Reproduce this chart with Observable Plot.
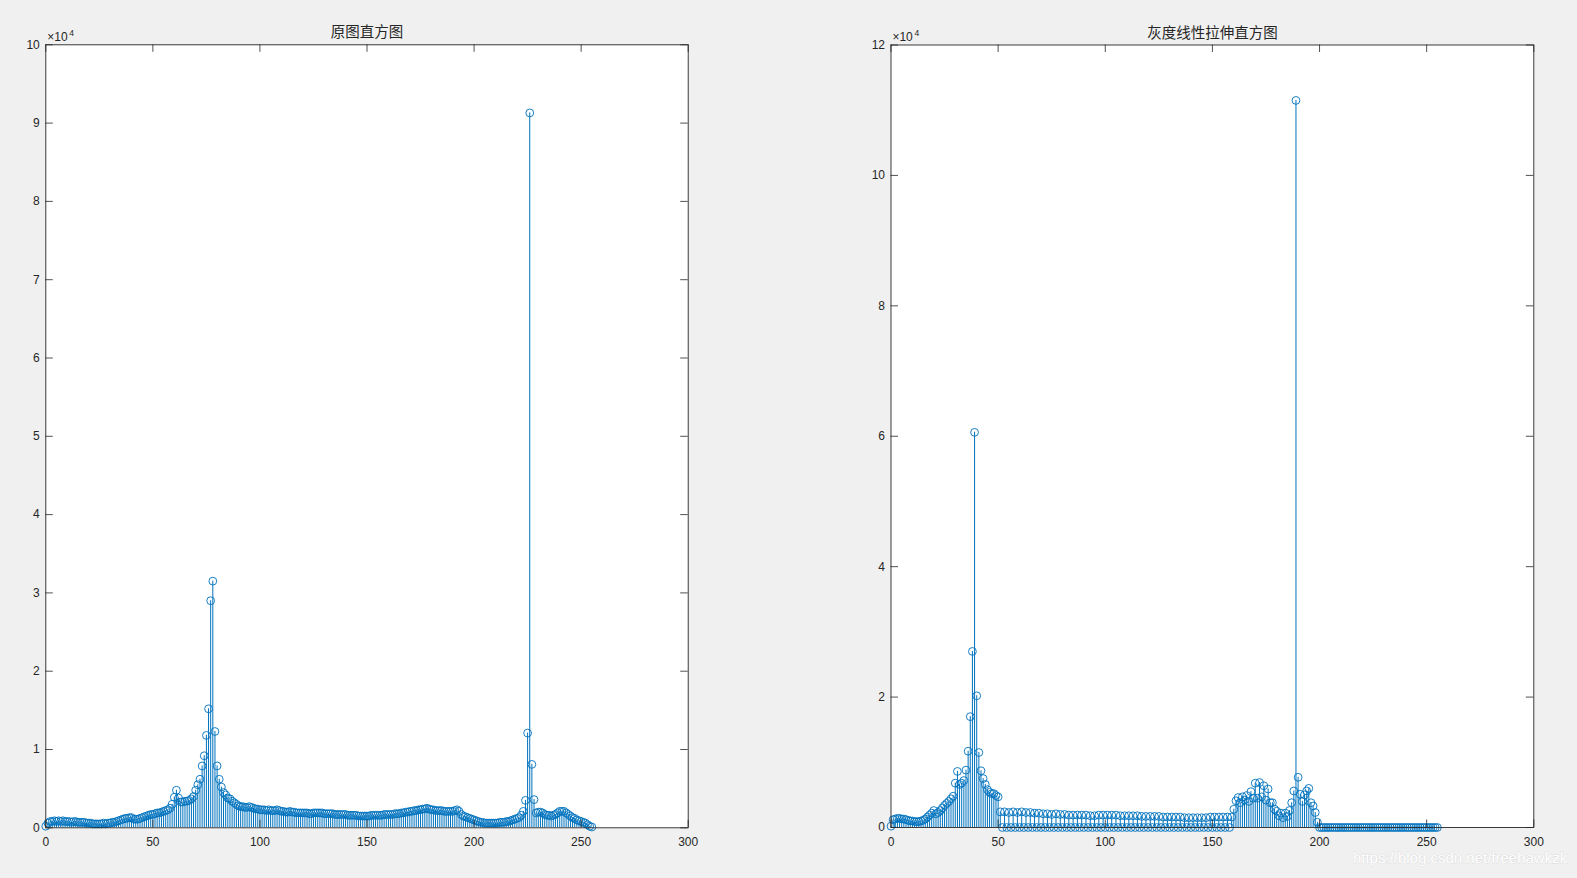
<!DOCTYPE html>
<html><head><meta charset="utf-8">
<script src="https://cdn.jsdelivr.net/npm/d3@7"></script>
<script src="https://cdn.jsdelivr.net/npm/@observablehq/plot@0.6"></script>
<style>
html,body{margin:0;padding:0;background:#f0f0f0;}
#fig{position:relative;width:1577px;height:878px;background:#f0f0f0;overflow:hidden;}
#fig svg{position:absolute;top:0;}
</style></head><body><div id="fig"></div>
<script>
// histogram counts, in units of 10^4 pixels, gray level 0..255
const origCounts = [
0.02,0.06,0.08,0.08,0.09,0.08,0.09,0.08,0.09,0.08,
0.08,0.08,0.07,0.08,0.08,0.07,0.07,0.07,0.07,0.06,
0.06,0.06,0.05,0.05,0.05,0.05,0.05,0.06,0.05,0.06,
0.06,0.07,0.07,0.08,0.09,0.10,0.11,0.12,0.12,0.13,
0.13,0.11,0.11,0.11,0.12,0.13,0.14,0.15,0.16,0.17,
0.17,0.18,0.19,0.19,0.20,0.21,0.22,0.23,0.25,0.30,
0.39,0.48,0.38,0.33,0.33,0.34,0.34,0.35,0.37,0.40,
0.48,0.55,0.62,0.79,0.92,1.18,1.52,2.90,3.15,1.23,
0.79,0.62,0.52,0.45,0.42,0.38,0.37,0.34,0.32,0.30,
0.28,0.27,0.27,0.26,0.26,0.27,0.26,0.25,0.24,0.24,
0.23,0.23,0.23,0.22,0.23,0.22,0.22,0.22,0.23,0.22,
0.21,0.21,0.20,0.20,0.21,0.20,0.20,0.19,0.19,0.19,
0.19,0.19,0.19,0.18,0.18,0.19,0.19,0.19,0.19,0.19,
0.18,0.18,0.18,0.18,0.18,0.17,0.17,0.17,0.17,0.17,
0.17,0.16,0.16,0.16,0.16,0.16,0.15,0.15,0.15,0.15,
0.15,0.15,0.16,0.16,0.16,0.16,0.16,0.16,0.17,0.17,
0.17,0.17,0.17,0.18,0.18,0.18,0.19,0.19,0.20,0.20,
0.21,0.21,0.22,0.22,0.23,0.23,0.24,0.24,0.25,0.24,
0.23,0.23,0.22,0.22,0.22,0.22,0.21,0.21,0.21,0.21,
0.21,0.22,0.23,0.21,0.17,0.15,0.14,0.13,0.12,0.11,
0.10,0.09,0.08,0.07,0.07,0.06,0.06,0.06,0.06,0.06,
0.06,0.06,0.07,0.07,0.07,0.08,0.08,0.09,0.10,0.11,
0.12,0.13,0.16,0.21,0.35,1.21,9.13,0.81,0.36,0.19,
0.20,0.20,0.19,0.17,0.16,0.16,0.15,0.16,0.17,0.19,
0.21,0.21,0.21,0.19,0.17,0.15,0.13,0.12,0.10,0.09,
0.08,0.07,0.06,0.04,0.02,0.01
];
const stretchCounts = [
0.02,0.12,0.13,0.14,0.14,0.13,0.13,0.12,0.11,0.10,
0.10,0.09,0.09,0.09,0.10,0.11,0.13,0.16,0.19,0.22,
0.26,0.21,0.23,0.26,0.30,0.34,0.37,0.40,0.44,0.48,
0.68,0.86,0.66,0.68,0.72,0.88,1.17,1.70,2.70,6.06,
2.02,1.15,0.87,0.75,0.66,0.58,0.54,0.52,0.52,0.49,
0.47,0.24,0,0.24,0,0.23,0,0.24,0,0.23,
0,0.24,0,0.23,0,0.23,0,0.22,0,0.22,
0,0.21,0,0.21,0,0.20,0,0.21,0,0.20,
0,0.20,0,0.19,0,0.19,0,0.19,0,0.19,
0,0.19,0,0.18,0,0.18,0,0.19,0,0.19,
0,0.19,0,0.19,0,0.19,0,0.18,0,0.18,
0,0.18,0,0.18,0,0.18,0,0.17,0,0.17,
0,0.17,0,0.17,0,0.17,0,0.16,0,0.16,
0,0.16,0,0.16,0,0.16,0,0.15,0,0.15,
0,0.15,0,0.15,0,0.15,0,0.15,0,0.16,
0,0.16,0,0.16,0,0.16,0,0.16,0,0.16,
0.28,0.41,0.46,0.38,0.47,0.42,0.49,0.40,0.55,0.45,
0.68,0.45,0.69,0.47,0.64,0.42,0.59,0.38,0.38,0.28,
0.25,0.18,0.22,0.15,0.22,0.17,0.26,0.38,0.56,11.15,
0.77,0.51,0.40,0.50,0.56,0.60,0.38,0.33,0.23,0.08,
0,0,0,0,0,0,0,0,0,0,
0,0,0,0,0,0,0,0,0,0,
0,0,0,0,0,0,0,0,0,0,
0,0,0,0,0,0,0,0,0,0,
0,0,0,0,0,0,0,0,0,0,
0,0,0,0,0,0
];
const xTicks = [0, 50, 100, 150, 200, 250, 300];
const yTicksLeft = [0, 1, 2, 3, 4, 5, 6, 7, 8, 9, 10];
const yTicksRight = [0, 2, 4, 6, 8, 10, 12];
const titles = ["原图直方图", "灰度线性拉伸直方图"];
const exponentText = ["×10", "4"];
const watermark = "https://blog.csdn.net/freehawkzk";

const BLUE = "#0072BD", INK = "#262626", TICK = 7.5;

function panel({values, yMax, yTicks, title, left, width, mL, mR, mT, mB, extra = []}) {
  const H = 878;
  const innerW = width - mL - mR, innerH = H - mT - mB;
  const data = values.map((v, i) => ({gray: i, count: v}));
  const svg = Plot.plot({
    width, height: H,
    marginLeft: mL, marginRight: mR, marginTop: mT, marginBottom: mB,
    x: {domain: [0, 300]},
    y: {domain: [0, yMax]},
    style: {background: "transparent", fontFamily: "'Liberation Sans', Arial, sans-serif", fontSize: "12px", color: INK, overflow: "visible"},
    marks: [
      Plot.frame({fill: "white", stroke: "none"}),
      Plot.ruleX(data, {x: "gray", y: "count", stroke: BLUE, strokeWidth: 1}),
      Plot.dot(data, {x: "gray", y: "count", r: 3.9, stroke: BLUE, strokeWidth: 0.9, fill: "none"}),
      Plot.tickX(xTicks, {x: d => d, insetTop: innerH - TICK, stroke: INK, strokeWidth: 0.8}),
      Plot.tickX(xTicks, {x: d => d, insetBottom: innerH - TICK, stroke: INK, strokeWidth: 0.8}),
      Plot.tickY(yTicks, {y: d => d, insetRight: innerW - TICK, stroke: INK, strokeWidth: 0.8}),
      Plot.tickY(yTicks, {y: d => d, insetLeft: innerW - TICK, stroke: INK, strokeWidth: 0.8}),
      Plot.frame({stroke: INK, strokeWidth: 0.9}),
      Plot.axisX(xTicks, {tickSize: 0, tickPadding: 10, label: null, fill: INK, fontSize: 12, tickFormat: d => String(d)}),
      Plot.axisY(yTicks, {tickSize: 0, tickPadding: 6, label: null, fill: INK, fontSize: 12, tickFormat: d => String(d)}),
      Plot.text([title], {text: d => d, frameAnchor: "top", lineAnchor: "bottom", dy: -7.5, fontSize: 14.5, fontFamily: "'Noto Sans CJK SC', sans-serif", fill: INK}),
      Plot.text([exponentText[0]], {text: d => d, frameAnchor: "top-left", textAnchor: "start", lineAnchor: "bottom", dx: 1.4, dy: -3.6, fontSize: 12, fill: INK}),
      Plot.text([exponentText[1]], {text: d => d, frameAnchor: "top-left", textAnchor: "start", lineAnchor: "bottom", dx: 23.5, dy: -9, fontSize: 8.5, fill: INK}),
      ...extra
    ]
  });
  svg.style.left = left + "px";
  document.getElementById("fig").appendChild(svg);
}

panel({values: origCounts, yMax: 10, yTicks: yTicksLeft, title: titles[0],
  left: 0, width: 788, mL: 45.3, mR: 100.3, mT: 44.3, mB: 50.7});
panel({values: stretchCounts, yMax: 12, yTicks: yTicksRight, title: titles[1],
  left: 788, width: 789, mL: 102.5, mR: 43.7, mT: 44.5, mB: 51,
  extra: [Plot.text([watermark], {text: d => d, frameAnchor: "bottom-right", textAnchor: "end", lineAnchor: "bottom", dx: 33.4, dy: 35.6, fontSize: 15, fill: "#ffffff", stroke: "#c4c4c4", strokeWidth: 0.35, fontFamily: "'Liberation Sans', Arial, sans-serif"})]});
</script></body></html>
